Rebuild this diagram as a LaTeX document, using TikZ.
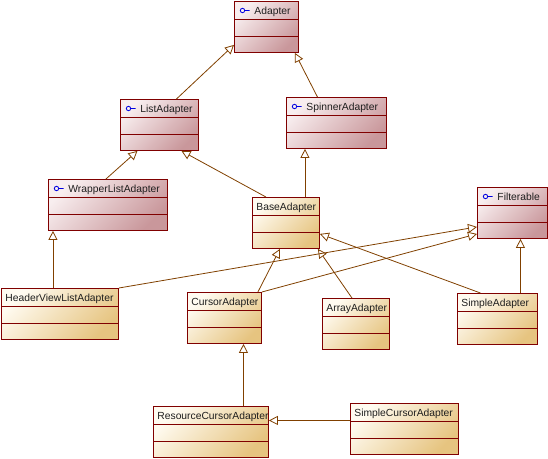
\documentclass[tikz,border=0pt]{standalone}
\usepackage{fontspec}
\setmainfont{Liberation Sans}
\usepackage{tikz}
\usetikzlibrary{arrows.meta,positioning,calc}
\definecolor{maroon}{HTML}{800000}
\definecolor{rust}{HTML}{804000}
\definecolor{rosea}{HTML}{F8EEEF}
\definecolor{roseb}{HTML}{C9979B}
\definecolor{creama}{HTML}{FFFBF1}
\definecolor{creamb}{HTML}{E6C480}
\definecolor{inkblue}{HTML}{0000E0}
\definecolor{ink}{HTML}{1E1E1E}
\tikzset{
  umlbox/.style={rectangle, draw=maroon, line width=0.9pt, anchor=north west, align=left,
                 inner xsep=4pt, inner ysep=0pt, text height=13pt, text depth=38pt, text=ink,
                 font=\fontsize{10.3}{12}\selectfont},
  ifacebox/.style={umlbox, top color=rosea, bottom color=roseb, shading angle=45,
                   execute at begin node=\hspace*{16pt}},
  classbox/.style={umlbox, top color=creama, bottom color=creamb, shading angle=45},
  sepline/.style={draw=maroon, line width=0.9pt},
  lolli/.style={draw=inkblue, line width=0.8pt},
  gen/.style={-{Triangle[open, length=9pt, width=9pt]}, draw=rust, line width=0.8pt}
}

\begin{document}
\begin{tikzpicture}[x=1pt, y=-1pt]
  \useasboundingbox (0,0) rectangle (548,458);
  % interfaces
  \node[ifacebox, text width=56pt] (adapter) at (234,1) {Adapter};
  \node[ifacebox, text width=70pt] (listad) at (120,99) {ListAdapter};
  \node[ifacebox, text width=92pt] (spinner) at (286,97) {SpinnerAdapter};
  \node[ifacebox, text width=111pt] (wrapper) at (48,179) {WrapperListAdapter};
  \node[ifacebox, text width=62pt] (filterable) at (477,187) {Filterable};
  % classes
  \node[classbox, text width=59pt] (base) at (252,197) {BaseAdapter};
  \node[classbox, text width=109pt] (header) at (1,288) {HeaderViewListAdapter};
  \node[classbox, text width=66pt] (cursor) at (187,292) {CursorAdapter};
  \node[classbox, text width=59pt] (array) at (322,298) {ArrayAdapter};
  \node[classbox, text width=72pt] (simple) at (457,293) {SimpleAdapter};
  \node[classbox, text width=107pt] (rca) at (153,406) {ResourceCursorAdapter};
  \node[classbox, text width=100pt] (sca) at (350,403) {SimpleCursorAdapter};
  % compartments
  \foreach \n in {adapter,listad,spinner,wrapper,filterable,base,header,cursor,array,simple,rca,sca} {
    \draw[sepline] ([yshift=-18pt]\n.north west) -- ([yshift=-18pt]\n.north east);
    \draw[sepline] ([yshift=-35pt]\n.north west) -- ([yshift=-35pt]\n.north east);
  }
  % interface marks
  \foreach \n in {adapter,listad,spinner,wrapper,filterable}
    \draw[lolli] ([xshift=8.5pt,yshift=-9.5pt]\n.north west) circle (2.2pt) ++(2.2pt,0) -- ++(5pt,0);
  % generalizations
  \draw[gen] ([xshift=17pt]listad.north) -- ([yshift=8pt]adapter.south west);
  \draw[gen] ([xshift=-19pt]spinner.north) -- ([xshift=-4pt]adapter.south east);
  \draw[gen] ([xshift=-2pt]wrapper.north) -- ([xshift=-22pt]listad.south);
  \draw[gen] ([xshift=-20pt]base.north) -- ([xshift=22pt]listad.south);
  \draw[gen] ([xshift=19pt]base.north) -- ([xshift=19pt]base.north |- spinner.south);
  \draw[gen] ([xshift=-7pt]header.north) -- ([xshift=-7pt]header.north |- wrapper.south);
  \draw[gen] (header.north east) -- ([yshift=12pt]filterable.south west);
  \draw[gen] (cursor.north east) -- ([yshift=5pt]filterable.south west);
  \draw[gen] ([xshift=-4pt]cursor.north east) -- ([xshift=-6pt]base.south);
  \draw[gen] ([xshift=-4pt]array.north) -- ([xshift=-2pt]base.south east);
  \draw[gen] ([xshift=-17pt]simple.north) -- ([yshift=15pt]base.south east);
  \draw[gen] ([xshift=23pt]simple.north) -- ([xshift=23pt]simple.north |- filterable.south);
  \draw[gen] ([xshift=19pt]cursor.south |- rca.north) -- ([xshift=19pt]cursor.south);
  \draw[gen] ([yshift=8.5pt]sca.west) -- ([yshift=8.5pt]sca.west -| rca.east);
\end{tikzpicture}
\end{document}
